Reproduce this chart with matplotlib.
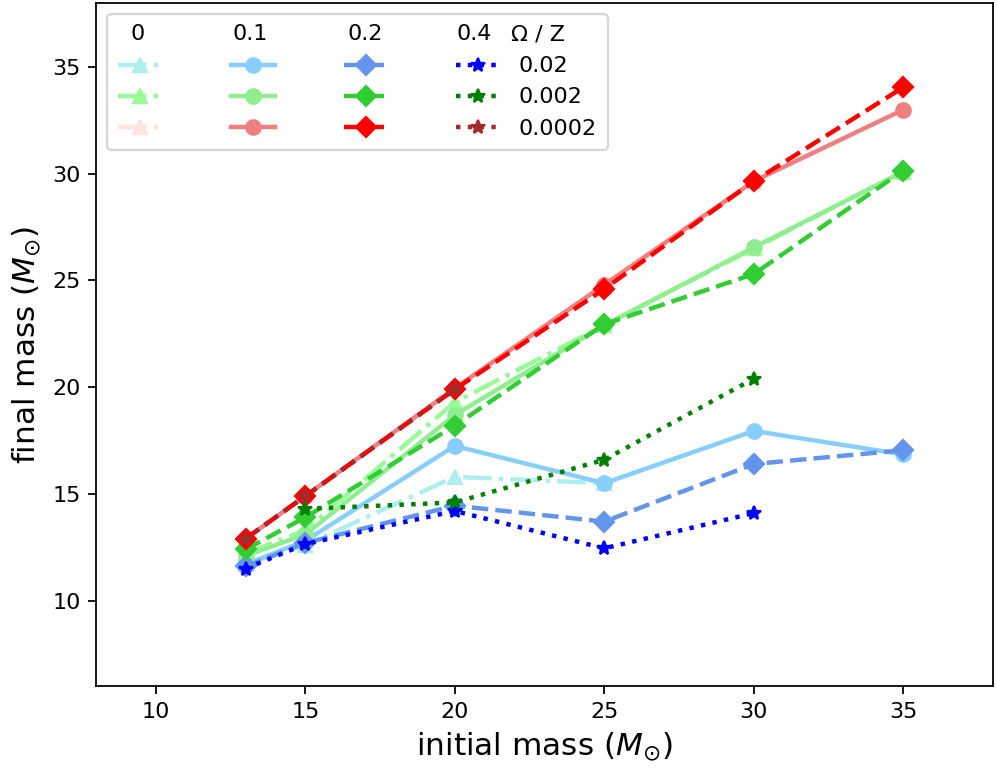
import matplotlib
matplotlib.use('Agg')
import matplotlib.pyplot as plt

# initial masses
m_init = [13, 15, 20, 25, 30, 35]

# rotation 0 (dash-dot, triangles)
x_r0_z02 = [13, 15, 20, 25]
y_r0_z02 = [11.7, 12.6, 15.8, 15.5]
y_r0_z002 = [12.2, 13.3, 19.3, 22.9, 26.5, 30.1]
x_r0_z0002 = [13, 15, 20, 25, 30]
y_r0_z0002 = [12.9, 14.9, 19.9, 24.7, 29.6]

# rotation 0.1 (solid, circles)
y_r1_z02 = [11.7, 12.8, 17.25, 15.5, 17.95, 16.85]
y_r1_z002 = [12.1, 13.1, 18.7, 22.9, 26.55, 30.1]
y_r1_z0002 = [12.9, 14.9, 19.95, 24.8, 29.65, 33.0]

# rotation 0.2 (dashed, diamonds)
y_r2_z02 = [11.6, 12.7, 14.45, 13.7, 16.4, 17.05]
y_r2_z002 = [12.4, 13.9, 18.2, 22.95, 25.3, 30.15]
y_r2_z0002 = [12.9, 14.9, 19.9, 24.6, 29.65, 34.05]

# rotation 0.4 (dotted, stars)
x_r4_z02 = [13, 15, 20, 25, 30]
y_r4_z02 = [11.5, 12.65, 14.2, 12.45, 14.1]
x_r4_z002 = [15, 20, 25, 30]
y_r4_z002 = [14.3, 14.6, 16.6, 20.4]
x_r4_z0002 = [13, 15, 20]
y_r4_z0002 = [12.9, 14.9, 19.9]

z_labels = ['0.02', '0.002', '0.0002']
omega_labels = ['0', '0.1', '0.2', '0.4', '\u03a9 / Z']

W, H = 997, 768
fig = plt.figure(figsize=(W/160, H/160), dpi=160)
ax = fig.add_axes([96/W, 1 - 686/H, 897/W, 683/H])

lw = 2.0
ms = 6.5
h = []
h.append(ax.plot(x_r0_z02, y_r0_z02, '-.^', color='paleturquoise', lw=lw, ms=ms)[0])
h.append(ax.plot(m_init, y_r0_z002, '-.^', color='palegreen', lw=lw, ms=ms)[0])
h.append(ax.plot(x_r0_z0002, y_r0_z0002, '-.^', color='mistyrose', lw=lw, ms=ms)[0])

h.append(ax.plot(m_init, y_r1_z02, '-o', color='lightskyblue', lw=lw, ms=ms)[0])
h.append(ax.plot(m_init, y_r1_z002, '-o', color='lightgreen', lw=lw, ms=ms)[0])
h.append(ax.plot(m_init, y_r1_z0002, '-o', color='lightcoral', lw=lw, ms=ms)[0])

h.append(ax.plot(m_init, y_r2_z02, '--D', color='cornflowerblue', lw=lw, ms=ms)[0])
h.append(ax.plot(m_init, y_r2_z002, '--D', color='limegreen', lw=lw, ms=ms)[0])
h.append(ax.plot(m_init, y_r2_z0002, '--D', color='red', lw=lw, ms=ms)[0])

h.append(ax.plot(x_r4_z02, y_r4_z02, ':*', color='blue', lw=lw, ms=ms)[0])
h.append(ax.plot(x_r4_z002, y_r4_z002, ':*', color='green', lw=lw, ms=ms)[0])
h.append(ax.plot(x_r4_z0002, y_r4_z0002, ':*', color='brown', lw=lw, ms=ms)[0])

labels = [' '] * 9 + z_labels
# title row only reserves space, header words are placed above each column
leg = ax.legend(h, labels, ncol=4, loc='upper left', title='0 / Z',
                title_fontsize=10, fontsize=10, borderpad=0.5,
                columnspacing=1.95)
leg.get_title().set_alpha(0)

header_x = [138, 250, 365, 474, 538]
for lab, px in zip(omega_labels, header_x):
    fig.text(px / W, 1 - 40 / H, lab, ha='center', va='baseline', fontsize=10)

ax.set_xlim(8, 38)
ax.set_ylim(6, 38)
ax.set_xticks([10, 15, 20, 25, 30, 35])
ax.set_yticks([10, 15, 20, 25, 30, 35])
ax.set_xlabel(r'initial mass ($M_{\odot}$)', fontsize=14)
ax.set_ylabel(r'final mass ($M_{\odot}$)', fontsize=14)

fig.savefig('out.png', dpi=160)
